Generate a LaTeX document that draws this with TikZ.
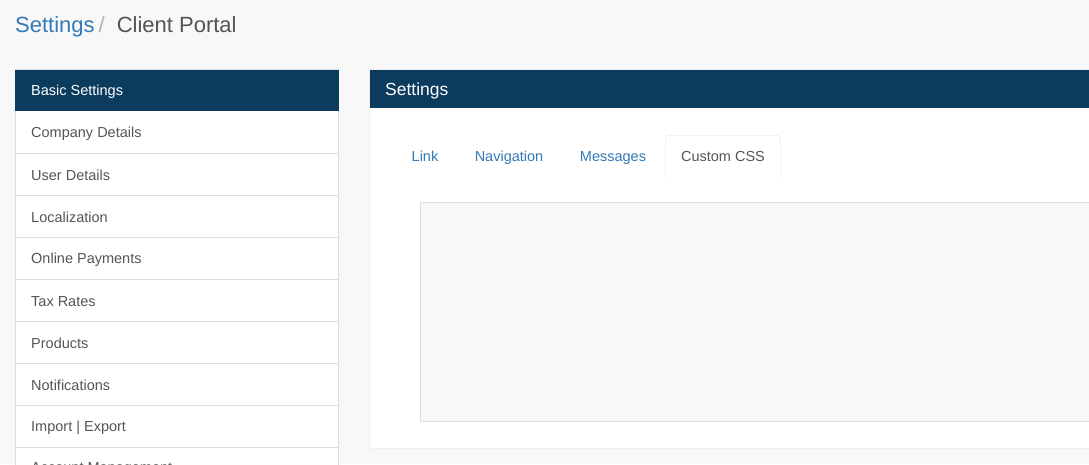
\documentclass[tikz,border=0pt]{standalone}
\usepackage{fontspec}
\setmainfont{Liberation Sans}
\definecolor{bg}{HTML}{F8F8F8}
\definecolor{navy}{HTML}{0B3C5D}
\definecolor{link}{HTML}{337AB7}
\definecolor{txt}{HTML}{555555}
\definecolor{bord}{HTML}{DDDDDD}
\begin{document}
\begin{tikzpicture}[x=1pt,y=-1pt,
  item/.style={anchor=west,text=txt,font=\fontsize{14.5}{16}\selectfont,inner sep=0,yshift=-1.5pt},
  tab/.style={anchor=center,text=link,font=\fontsize{14.5}{16}\selectfont,inner sep=0,text height=10.5pt,text depth=3pt,yshift=-2pt}]
\useasboundingbox (0,0) rectangle (1089,464);
\clip (0,0) rectangle (1089,464);
\fill[bg] (0,0) rectangle (1089,464);
% breadcrumb
\node[anchor=west,inner sep=0,font=\fontsize{22}{24}\selectfont,yshift=-1.5pt] (crumb) at (15,25)
  {\textcolor{link}{Settings}\textcolor{gray!60}{\hspace{4pt}/}\hspace{12pt}\textcolor{txt}{Client Portal}};
% left panel
\draw[bord,fill=white] (15.5,69.5) rectangle (338.5,480);
\fill[navy] (15,69.5) rectangle (339,111);
\node[item,text=white] (basic) at (31,90) {Basic Settings};
\foreach \y in {153,195,237,279,321,363,405,447}
  \draw[bord] (16,\y+.5) -- (338,\y+.5);
\node[item] (c1) at (31,132) {Company Details};
\node[item] (c2) at (31,174) {User Details};
\node[item] (c3) at (31,216) {Localization};
\node[item] (c4) at (31,258) {Online Payments};
\node[item] (c5) at (31,300) {Tax Rates};
\node[item] (c6) at (31,342) {Products};
\node[item] (c7) at (31,384) {Notifications};
\node[item] (c8) at (31,426) {Import | Export};
\node[item] (c9) at (31,468) {Account Management};
% right panel
\draw[bord,fill=white,rounded corners=3pt] (369.5,69.5) rectangle (1100,448.5);
\fill[navy] (369.5,69.5) rectangle (1100,108);
\node[anchor=west,inner sep=0,text=white,font=\fontsize{17.5}{20}\selectfont,yshift=-1.5pt] (st) at (385,89) {Settings};
\node[tab] (t1) at (425,156) {Link};
\node[tab] (t2) at (509,156) {Navigation};
\node[tab] (t3) at (613,156) {Messages};
\draw[bord,fill=white,rounded corners=3pt] (665.5,178) -- (665.5,135.5) -- (780.5,135.5) -- (780.5,178);
\node[tab,text=txt] (t4) at (723,156) {Custom CSS};
\draw[bord,fill=bg] (420.5,202.5) rectangle (1100,421.5);
\end{tikzpicture}
\end{document}
